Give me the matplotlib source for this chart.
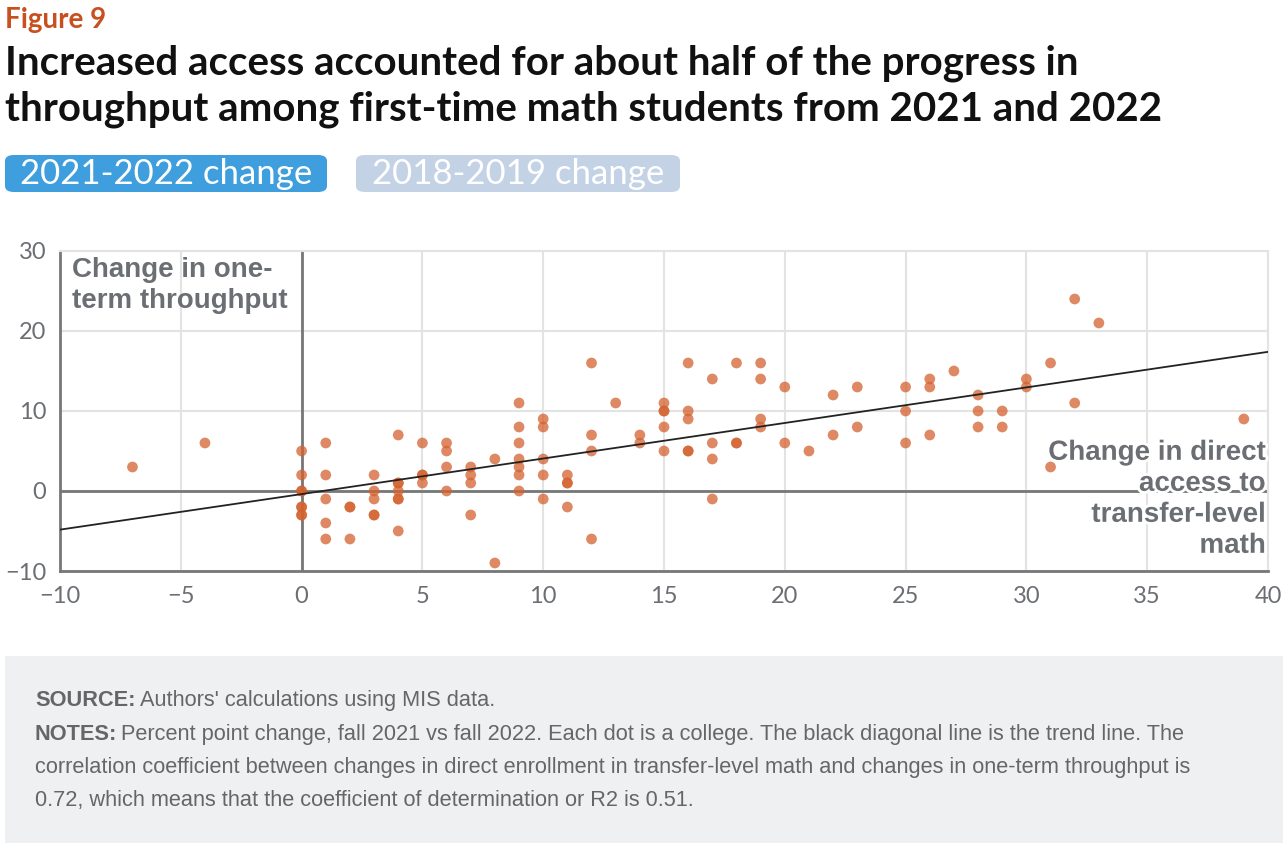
import numpy as np
import matplotlib.pyplot as plt
import matplotlib.patheffects as pe
from matplotlib.patches import FancyBboxPatch

# change in direct access to transfer-level math (x) vs change in one-term throughput (y)
access_change = [-7, -4,
                 0, 0, 0, 0, 0, 0, 0, 0,
                 1, 1, 1, 1, 1,
                 2, 2, 2,
                 3, 3, 3, 3, 3,
                 4, 4, 4, 4, 4, 4, 4,
                 5, 5, 5, 5,
                 6, 6, 6, 6,
                 7, 7, 7, 7,
                 8, 8,
                 9, 9, 9, 9, 9, 9, 9,
                 10, 10, 10, 10, 10,
                 11, 11, 11, 11,
                 12, 12, 12, 12,
                 13,
                 14, 14,
                 15, 15, 15, 15, 15,
                 16, 16, 16, 16, 16,
                 17, 17, 17, 17,
                 18, 18, 18,
                 19, 19, 19, 19,
                 20, 20,
                 21,
                 22, 22,
                 23, 23,
                 25, 25, 25,
                 26, 26, 26,
                 27,
                 28, 28, 28,
                 29, 29,
                 30, 30,
                 31, 31,
                 32, 32,
                 33,
                 39]
throughput_change = [3, 6,
                     5, 2, 0, 0, -2, -2, -3, -3,
                     6, 2, -1, -4, -6,
                     -2, -2, -6,
                     2, 0, -1, -3, -3,
                     7, 1, 1, 0, -1, -1, -5,
                     6, 2, 2, 1,
                     6, 5, 3, 0,
                     3, 2, 1, -3,
                     4, -9,
                     11, 8, 6, 4, 3, 2, 0,
                     9, 8, 4, 2, -1,
                     2, 1, 1, -2,
                     16, 7, 5, -6,
                     11,
                     7, 6,
                     11, 10, 10, 8, 5,
                     16, 10, 9, 5, 5,
                     14, 6, 4, -1,
                     16, 6, 6,
                     16, 14, 9, 8,
                     13, 6,
                     5,
                     12, 7,
                     13, 8,
                     13, 10, 6,
                     14, 13, 7,
                     15,
                     12, 10, 8,
                     10, 8,
                     14, 13,
                     16, 3,
                     24, 11,
                     21,
                     9]

x_ticks = [-10, -5, 0, 5, 10, 15, 20, 25, 30, 35, 40]
y_ticks = [-10, 0, 10, 20, 30]

# trend line fitted to the dots
slope, intercept = np.polyfit(access_change, throughput_change, 1)

fig = plt.figure(figsize=(12.88, 8.48), dpi=100)
ax = fig.add_axes([60/1288, 1-571/848, 1208/1288, 320/848])

ax.set_xlim(-10, 40)
ax.set_ylim(-10, 30)
ax.set_xticks(x_ticks)
ax.set_yticks(y_ticks)
ax.set_xticklabels([str(t).replace('-', '\u2212') for t in x_ticks])
ax.set_yticklabels([str(t).replace('-', '\u2212') for t in y_ticks])
ax.tick_params(length=0, labelsize=17, labelcolor='#6b6e73')
ax.tick_params(axis='x', pad=11)
ax.tick_params(axis='y', pad=10)
for lab in ax.get_xticklabels() + ax.get_yticklabels():
    lab.set_family('Lato')

ax.grid(True, color='#e3e3e3', linewidth=1.5)
ax.set_axisbelow(True)
for s in ['top', 'right']:
    ax.spines[s].set_color('#e3e3e3')
    ax.spines[s].set_linewidth(1.5)
for s in ['left', 'bottom']:
    ax.spines[s].set_color('#777777')
    ax.spines[s].set_linewidth(2)

ax.axhline(0, color='#777777', linewidth=2, zorder=1)
ax.axvline(0, color='#777777', linewidth=2, zorder=1)

ax.scatter(access_change, throughput_change, s=60, color='#D4622F', alpha=0.75,
           edgecolors='none', zorder=3)

xs = np.array([-10, 40])
ax.plot(xs, slope*xs + intercept, color='#222222', linewidth=1.3, zorder=4)

ax.text(-9.5, 29.2, 'Change in one-\nterm throughput', ha='left', va='top',
        fontsize=20, fontweight='bold', color='#6b6e73', family='Liberation Sans',
        linespacing=1.25, zorder=5)
ax.text(39.9, 6.4, 'Change in direct\naccess to\ntransfer-level\nmath', ha='right', va='top',
        fontsize=20, fontweight='bold', color='#6b6e73', family='Liberation Sans',
        linespacing=1.25, zorder=5,
        path_effects=[pe.withStroke(linewidth=4, foreground='white')])

# titles
fig.text(5/1288, 1-28/848, 'Figure 9', fontsize=20, fontweight='bold', color='#C8501E',
         family='Lato', va='baseline')
fig.text(5/1288, 1-75/848, 'Increased access accounted for about half of the progress in',
         fontsize=29, fontweight='bold', color='#111111', family='Lato', va='baseline')
fig.text(5/1288, 1-121/848, 'throughput among first-time math students from 2021 and 2022',
         fontsize=29, fontweight='bold', color='#111111', family='Lato', va='baseline')

# legend buttons
for x0, x1, label, col in [(5, 327, '2021-2022 change', '#3F9EDD'),
                           (356, 680, '2018-2019 change', '#C3D2E4')]:
    box = FancyBboxPatch((x0/1288, 1-192/848), (x1-x0)/1288, 37/848,
                         boxstyle='round,pad=0,rounding_size=0.007',
                         transform=fig.transFigure, facecolor=col, edgecolor='none')
    fig.patches.append(box)
    fig.text((x0+x1)/2/1288, 1-174/848, label, ha='center', va='center',
             fontsize=25, color='white', family='Lato')

# footer box
fig.patches.append(plt.Rectangle((5/1288, 1-843/848), 1278/1288, 187/848,
                                 transform=fig.transFigure, facecolor='#EFF0F2',
                                 edgecolor='none'))
foot = dict(fontsize=15.7, color='#666666', family='Liberation Sans', va='baseline')
renderer = fig.canvas.get_renderer()


def foot_line(y_px, bold, rest):
    x = 35/1288
    if bold:
        t = fig.text(x, 1-y_px/848, bold, fontweight='bold', **foot)
        w = t.get_window_extent(renderer).width
        x += (w + 4)/1288
    fig.text(x, 1-y_px/848, rest, **foot)


foot_line(706, 'SOURCE:', "Authors' calculations using MIS data.")
foot_line(740, 'NOTES:', 'Percent point change, fall 2021 vs fall 2022. Each dot is a college. '
          'The black diagonal line is the trend line. The')
foot_line(773, '', 'correlation coefficient between changes in direct enrollment in '
          'transfer-level math and changes in one-term throughput is')
foot_line(806, '', '0.72, which means that the coefficient of determination or R2 is 0.51.')

fig.savefig('out.png', dpi=100)
